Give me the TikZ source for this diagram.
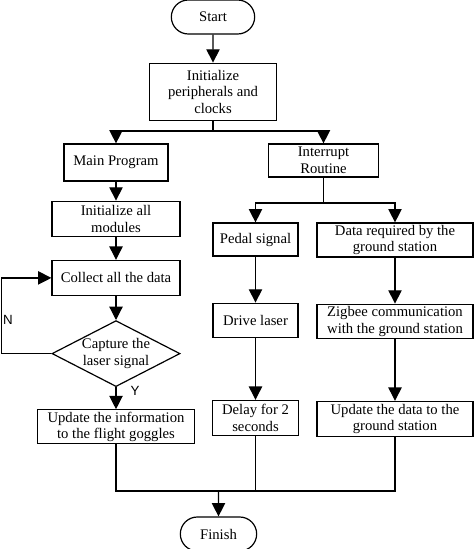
\documentclass[tikz,border=0pt]{standalone}
\usepackage{fontspec}
\setmainfont{Liberation Serif}
\newfontfamily\labelfont{Liberation Sans}
\usepackage{tikz,xcolor}
\usetikzlibrary{shapes.geometric, shapes.misc}
\usetikzlibrary{arrows.meta, positioning}

\begin{document}
\begin{tikzpicture}[x=0.75pt, y=0.75pt,
		base/.style = {draw=black, line width=0.9pt, align=center, inner sep=1pt, font=\fontsize{11}{12.5}\selectfont},
		box/.style = {rectangle, base},
		term/.style = {rounded rectangle, base, minimum width=64.5pt, minimum height=25.5pt},
		decision/.style = {diamond, base, aspect=2, inner sep=0pt, minimum width=96pt, minimum height=49.5pt},
		arr/.style = {line width=0.9pt, -{Triangle[length=10pt,width=10pt]}},
		link/.style = {line width=0.9pt}
		]
		\useasboundingbox (0,0) rectangle (474,-549);
		
		\node (start) [term] at (213,-17) {Start};
		\node (init) [box, below=21pt of start, minimum width=95pt, minimum height=42.75pt] {Initialize\\peripherals and\\clocks};
		
		% main program column
		\node (main) [box, minimum width=78pt, minimum height=27.75pt] at (116,-162.5) {Main Program};
		\node (modules) [box, below=14.25pt of main, minimum width=96pt, minimum height=26.25pt] {Initialize all\\modules};
		\node (collect) [box, below=17.25pt of modules, minimum width=96pt, minimum height=26.25pt] {Collect all the data};
		\node (capture) [decision, below=18pt of collect] {Capture the\\laser signal};
		\node (goggles) [box, below=16.5pt of capture, minimum width=117.75pt, minimum height=25.5pt] {Update the information\\to the flight goggles};
		
		% interrupt columns
		\node (intr) [box, minimum width=83pt, minimum height=24.75pt] at (323.5,-160.5) {Interrupt\\Routine};
		\node (pedal) [box, minimum width=63.75pt, minimum height=24.75pt] at (255.5,-239.5) {Pedal signal};
		\node (drive) [box, below=34.5pt of pedal, minimum width=63.75pt, minimum height=25.5pt] {Drive laser};
		\node (delay) [box, below=46.5pt of drive, minimum width=64.5pt, minimum height=26.25pt] {Delay for 2\\seconds};
		\node (req) [box, minimum width=117pt, minimum height=25.5pt] at (395,-240) {Data required by the\\ground station};
		\node (zigbee) [box, below=34.5pt of req, minimum width=117pt, minimum height=25.5pt] {Zigbee communication\\with the ground station};
		\node (station) [box, below=46.5pt of zigbee, minimum width=117pt, minimum height=26.25pt] {Update the data to the\\ground station};
		
		\node (finish) [term, minimum width=59.25pt] at (218.5,-534) {Finish};
		
		\node (nlab) at (8,-320) {\labelfont N};
		\node (ylab) at (135,-391) {\labelfont Y};
		
		\coordinate (split) at (213,-131);
		\coordinate (fork) at (323.5,-203);
		\coordinate (loop) at (1.5,-350);
		\coordinate (merge) at (218.5,-491);
		
		\draw[arr] (start) -- (init);
		\draw[link] (init) -- (split);
		\draw[arr] (split) -| (main);
		\draw[arr] (split) -| (intr);
		
		\draw[arr] (main) -- (modules);
		\draw[arr] (modules) -- (collect);
		\draw[arr] (collect) -- (capture);
		\draw[arr] (capture.west) -- (capture.west -| loop) |- (collect.west);
		\draw[arr] (capture) -- (goggles);
		
		\draw[link] (intr) -- (fork);
		\draw[arr] (fork) -| (pedal);
		\draw[arr] (fork) -| (req);
		\draw[arr] (pedal) -- (drive);
		\draw[arr] (drive) -- (delay);
		\draw[arr] (req) -- (zigbee);
		\draw[arr] (zigbee) -- (station);
		
		\draw[link] (goggles) |- (merge);
		\draw[link] (station) |- (merge);
		\draw[link] (delay) -- (delay |- merge);
		\draw[arr] (merge) -- (finish);
	\end{tikzpicture}
\end{document}
